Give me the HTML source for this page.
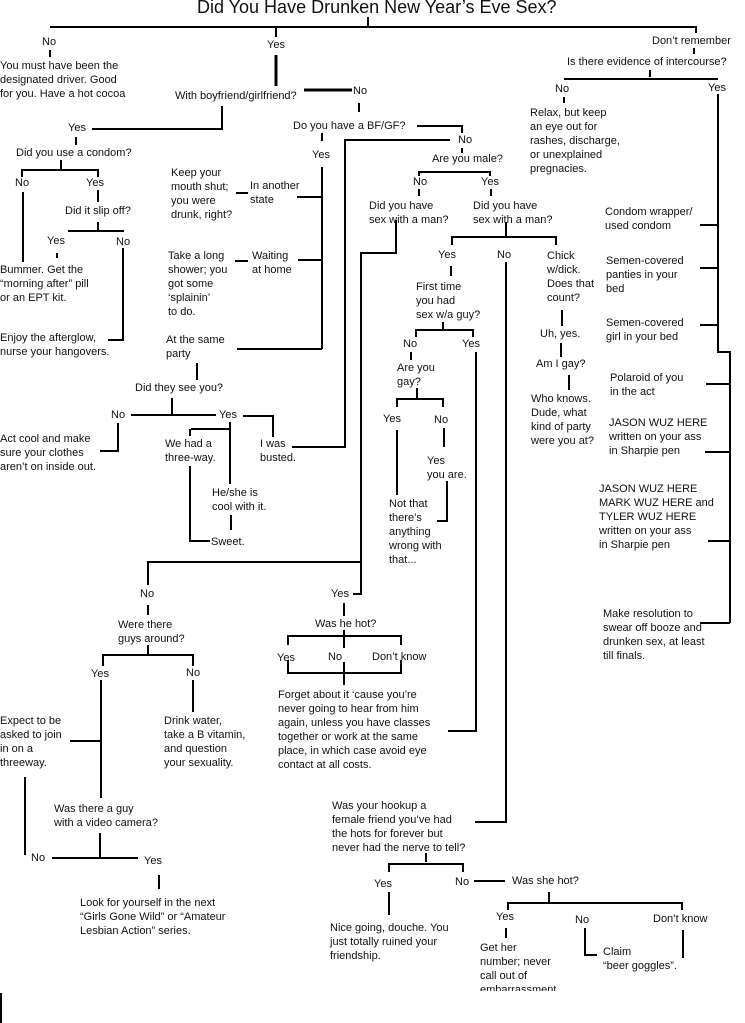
<!DOCTYPE html>
<html><head><meta charset="utf-8"><style>
html,body{margin:0;padding:0;background:#fff;}
#c{position:relative;width:745px;height:1023px;overflow:hidden;font-family:"Liberation Sans",Arial,sans-serif;font-size:11px;line-height:14px;color:#111;}
.t{position:absolute;white-space:pre;}
svg{position:absolute;left:0;top:0;}
</style></head><body><div id="c">
<svg width="745" height="1023" stroke="#000" stroke-width="2" fill="none">
<path d="M368 17V27M50 27H696V33M276 27V37M50 50V57"/>
<path d="M276 55V86" stroke-width="3"/>
<path d="M304 90H352" stroke-width="3"/>
<path d="M359 103V112M222 106V129H92M76 137V145M61 160V170M22 177V170H98V177M23 192V262M98 190V202M98 222V230M68 231H124M57 253V258M123 248V340H108"/>
<path d="M417 126H462V133M322 133V141M322 167V349M297 197H322M298 260H322M237 349H322M236 193H248M235 261H248M462 148V153"/>
<path d="M450 140H345V447H292M197 363V380M172 398V415M131 415H216M243 416H273V437M118 423V451H100M230 422V484M191 429H230M190 429V436M190 466V541H210M231 515V530"/>
<path d="M419 176V172H490V176M419 189V196M491 189V196M396 220V253H361V594H353M361 562H148V585M148 605V615M148 645V655M103 666V655H193V666M101 680V798M70 741H101M193 680V712M25 777V855M52 858H138M100 833V858M159 875V889"/>
<path d="M506 222V238M452 245V237H556V245M506 262V822H475M451 266V276M443 322V330M416 337V330H473V337M476 352V731H448M411 352V360M417 388V398M397 407V399H443V407M397 430V495M444 428V447M447 481V521H437M562 310V326M561 343V357M569 375V390"/>
<path d="M344 603V616M288 645V636H401V645M344 630V648M344 662V685M288 660V673H401V660"/>
<path d="M426 853V862M389 872V864H463V872M474 881H505M549 892V902M508 910V903H682V910M506 928V938M585 928V955H597M683 930V958M389 892V915M1 993V1023"/>
<path d="M694 48V54M650 70V77M564 79H718M564 97V103M718 94V352H730V623M700 225H718M700 268H718M700 325H718M706 384H730M705 452H730M708 541H730M700 623H730"/>
</svg>
<div class="t" style="left:197px;top:-4px;font-size:18px;line-height:22px">Did You Have Drunken New Year’s Eve Sex?</div>
<div class="t" style="left:42px;top:35px">No</div>
<div class="t" style="left:267px;top:38px">Yes</div>
<div class="t" style="left:0;top:59px">You must have been the
designated driver. Good
for you. Have a hot cocoa</div>
<div class="t" style="left:175px;top:89px">With boyfriend/girlfriend?</div>
<div class="t" style="left:353px;top:84px">No</div>
<div class="t" style="left:293px;top:119px">Do you have a BF/GF?</div>
<div class="t" style="left:68px;top:121px">Yes</div>
<div class="t" style="left:16px;top:146px">Did you use a condom?</div>
<div class="t" style="left:15px;top:176px">No</div>
<div class="t" style="left:86px;top:176px">Yes</div>
<div class="t" style="left:65px;top:204px">Did it slip off?</div>
<div class="t" style="left:47px;top:234px">Yes</div>
<div class="t" style="left:116px;top:235px">No</div>
<div class="t" style="left:0;top:263px">Bummer. Get the
“morning after” pill
or an EPT kit.</div>
<div class="t" style="left:0;top:331px">Enjoy the afterglow,
nurse your hangovers.</div>
<div class="t" style="left:312px;top:148px">Yes</div>
<div class="t" style="left:171px;top:166px">Keep your
mouth shut;
you were
drunk, right?</div>
<div class="t" style="left:250px;top:179px">In another
state</div>
<div class="t" style="left:168px;top:249px">Take a long
shower; you
got some
‘splainin’
to do.</div>
<div class="t" style="left:252px;top:249px">Waiting
at home</div>
<div class="t" style="left:166px;top:333px">At the same
party</div>
<div class="t" style="left:135px;top:381px">Did they see you?</div>
<div class="t" style="left:111px;top:408px">No</div>
<div class="t" style="left:219px;top:408px">Yes</div>
<div class="t" style="left:0;top:432px">Act cool and make
sure your clothes
aren’t on inside out.</div>
<div class="t" style="left:165px;top:437px">We had a
three-way.</div>
<div class="t" style="left:260px;top:437px">I was
busted.</div>
<div class="t" style="left:212px;top:486px">He/she is
cool with it.</div>
<div class="t" style="left:211px;top:535px">Sweet.</div>
<div class="t" style="left:458px;top:133px">No</div>
<div class="t" style="left:432px;top:152px">Are you male?</div>
<div class="t" style="left:413px;top:175px">No</div>
<div class="t" style="left:481px;top:175px">Yes</div>
<div class="t" style="left:369px;top:199px">Did you have
sex with a man?</div>
<div class="t" style="left:473px;top:199px">Did you have
sex with a man?</div>
<div class="t" style="left:438px;top:248px">Yes</div>
<div class="t" style="left:497px;top:248px">No</div>
<div class="t" style="left:547px;top:249px">Chick
w/dick.
Does that
count?</div>
<div class="t" style="left:416px;top:280px">First time
you had
sex w/a guy?</div>
<div class="t" style="left:403px;top:337px">No</div>
<div class="t" style="left:462px;top:337px">Yes</div>
<div class="t" style="left:397px;top:361px">Are you
gay?</div>
<div class="t" style="left:383px;top:412px">Yes</div>
<div class="t" style="left:434px;top:413px">No</div>
<div class="t" style="left:427px;top:454px">Yes
you are.</div>
<div class="t" style="left:389px;top:497px">Not that
there’s
anything
wrong with
that...</div>
<div class="t" style="left:540px;top:327px">Uh, yes.</div>
<div class="t" style="left:536px;top:357px">Am I gay?</div>
<div class="t" style="left:531px;top:392px">Who knows.
Dude, what
kind of party
were you at?</div>
<div class="t" style="left:652px;top:34px">Don’t remember</div>
<div class="t" style="left:567px;top:55px">Is there evidence of intercourse?</div>
<div class="t" style="left:555px;top:82px">No</div>
<div class="t" style="left:708px;top:81px">Yes</div>
<div class="t" style="left:530px;top:106px">Relax, but keep
an eye out for
rashes, discharge,
or unexplained
pregnacies.</div>
<div class="t" style="left:605px;top:205px">Condom wrapper/
used condom</div>
<div class="t" style="left:606px;top:254px">Semen-covered
panties in your
bed</div>
<div class="t" style="left:606px;top:316px">Semen-covered
girl in your bed</div>
<div class="t" style="left:610px;top:371px">Polaroid of you
in the act</div>
<div class="t" style="left:609px;top:416px">JASON WUZ HERE
written on your ass
in Sharpie pen</div>
<div class="t" style="left:599px;top:482px">JASON WUZ HERE
MARK WUZ HERE and
TYLER WUZ HERE
written on your ass
in Sharpie pen</div>
<div class="t" style="left:603px;top:607px">Make resolution to
swear off booze and
drunken sex, at least
till finals.</div>
<div class="t" style="left:140px;top:587px">No</div>
<div class="t" style="left:118px;top:618px">Were there
guys around?</div>
<div class="t" style="left:91px;top:667px">Yes</div>
<div class="t" style="left:186px;top:666px">No</div>
<div class="t" style="left:0;top:714px">Expect to be
asked to join
in on a
threeway.</div>
<div class="t" style="left:164px;top:714px">Drink water,
take a B vitamin,
and question
your sexuality.</div>
<div class="t" style="left:54px;top:802px">Was there a guy
with a video camera?</div>
<div class="t" style="left:31px;top:851px">No</div>
<div class="t" style="left:144px;top:854px">Yes</div>
<div class="t" style="left:80px;top:896px">Look for yourself in the next
“Girls Gone Wild” or “Amateur
Lesbian Action” series.</div>
<div class="t" style="left:331px;top:587px">Yes</div>
<div class="t" style="left:315px;top:617px">Was he hot?</div>
<div class="t" style="left:277px;top:651px">Yes</div>
<div class="t" style="left:328px;top:650px">No</div>
<div class="t" style="left:372px;top:650px">Don’t know</div>
<div class="t" style="left:278px;top:688px">Forget about it ‘cause you’re
never going to hear from him
again, unless you have classes
together or work at the same
place, in which case avoid eye
contact at all costs.</div>
<div class="t" style="left:332px;top:799px">Was your hookup a
female friend you’ve had
the hots for forever but
never had the nerve to tell?</div>
<div class="t" style="left:374px;top:877px">Yes</div>
<div class="t" style="left:455px;top:875px">No</div>
<div class="t" style="left:512px;top:874px">Was she hot?</div>
<div class="t" style="left:330px;top:921px">Nice going, douche. You
just totally ruined your
friendship.</div>
<div class="t" style="left:496px;top:910px">Yes</div>
<div class="t" style="left:575px;top:913px">No</div>
<div class="t" style="left:653px;top:912px">Don’t know</div>
<div class="t" style="left:480px;top:941px;height:50px;overflow:hidden">Get her
number; never
call out of
embarrassment</div>
<div class="t" style="left:603px;top:945px">Claim
“beer goggles”.</div>
</div></body></html>
